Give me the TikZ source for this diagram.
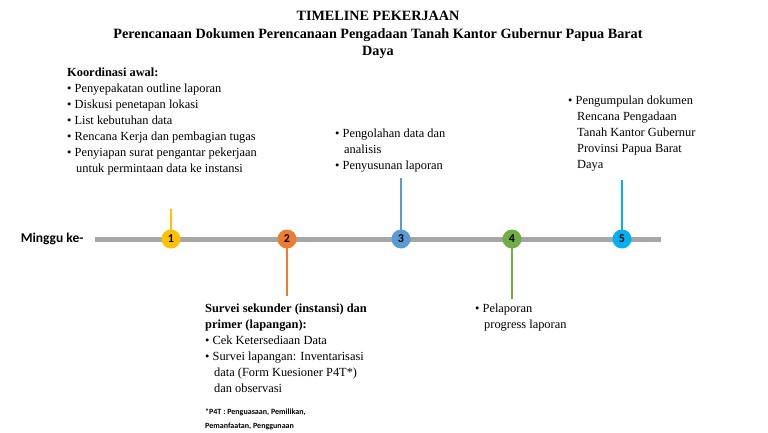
\documentclass[tikz,border=0pt]{standalone}
\usepackage{fontspec}
\setmainfont{Liberation Serif}
\newfontfamily\carl{Carlito}
\definecolor{cyel}{RGB}{255,192,0}
\definecolor{cora}{RGB}{237,125,49}
\definecolor{cblu}{RGB}{91,155,213}
\definecolor{cgrn}{RGB}{112,173,71}
\definecolor{ccya}{RGB}{0,176,240}
\begin{document}
\begin{tikzpicture}[x=1pt,y=-1pt,
 txt/.style={anchor=north west,align=left,inner sep=0pt,font=\fontsize{12.4}{16}\selectfont},
 dot/.style={circle,fill=#1,minimum size=19pt,inner sep=0pt,font=\carl\bfseries\fontsize{12}{12}\selectfont},
 stem/.style={draw=#1,line width=1.6pt}]
\useasboundingbox[fill=white] (0,0) rectangle (768,433);
\node[font=\bfseries\fontsize{14.2}{17.5}\selectfont,align=center] (title) at (378,35) {TIMELINE PEKERJAAN\\Perencanaan Dokumen Perencanaan Pengadaan Tanah Kantor Gubernur Papua Barat\\Daya};
\node[anchor=east,font=\carl\bfseries\fontsize{13.5}{14}\selectfont] (mk) at (87,239) {Minggu ke-};
\coordinate (ls) at (95,239); \coordinate (le) at (661,239);
\draw[line width=5pt,color=black!35] (ls) -- (le);
\coordinate (t1) at (171,209); \coordinate (t2) at (287,296);
\coordinate (t3) at (401,178); \coordinate (t4) at (512,299);
\coordinate (t5) at (622,180);
\coordinate (p1) at (171,239); \coordinate (p2) at (287,239);
\coordinate (p3) at (401,239); \coordinate (p4) at (512,239);
\coordinate (p5) at (622,239);
\draw[stem=cyel] (t1) -- (p1);
\draw[stem=cora] (t2) -- (p2);
\draw[stem=cblu] (t3) -- (p3);
\draw[stem=cgrn] (t4) -- (p4);
\draw[stem=ccya] (t5) -- (p5);
\node[dot=cyel] (c1) at (p1) {1};
\node[dot=cora] (c2) at (p2) {2};
\node[dot=cblu] (c3) at (p3) {3};
\node[dot=cgrn] (c4) at (p4) {4};
\node[dot=ccya] (c5) at (p5) {5};
\node[txt] (b1) at (67,68) {\textbf{Koordinasi awal:}\\
\textbullet\ Penyepakatan outline laporan\\
\textbullet\ Diskusi penetapan lokasi\\
\textbullet\ List kebutuhan data\\
\textbullet\ Rencana Kerja dan pembagian tugas\\
\textbullet\ Penyiapan surat pengantar pekerjaan\\
\hspace*{9pt}untuk permintaan data ke instansi};
\node[txt] (b3) at (335,129) {\textbullet\ Pengolahan data dan\\
\hspace*{9pt}analisis\\
\textbullet\ Penyusunan laporan};
\node[txt] (b5) at (568,96) {\textbullet\ Pengumpulan dokumen\\
\hspace*{9pt}Rencana Pengadaan\\
\hspace*{9pt}Tanah Kantor Gubernur\\
\hspace*{9pt}Provinsi Papua Barat\\
\hspace*{9pt}Daya};
\node[txt] (b2) at (205,304) {\textbf{Survei sekunder (instansi) dan}\\
\textbf{primer (lapangan):}\\
\textbullet\ Cek Ketersediaan Data\\
\textbullet\ Survei lapangan: Inventarisasi\\
\hspace*{9pt}data (Form Kuesioner P4T*)\\
\hspace*{9pt}dan observasi};
\node[txt,font=\carl\bfseries\fontsize{8}{14}\selectfont] (note) at (205,409) {*P4T : Penguasaan, Pemilikan,\\Pemanfaatan, Penggunaan};
\node[txt] (b4) at (475,304) {\textbullet\ Pelaporan\\
\hspace*{9pt}progress laporan};
\end{tikzpicture}
\end{document}
